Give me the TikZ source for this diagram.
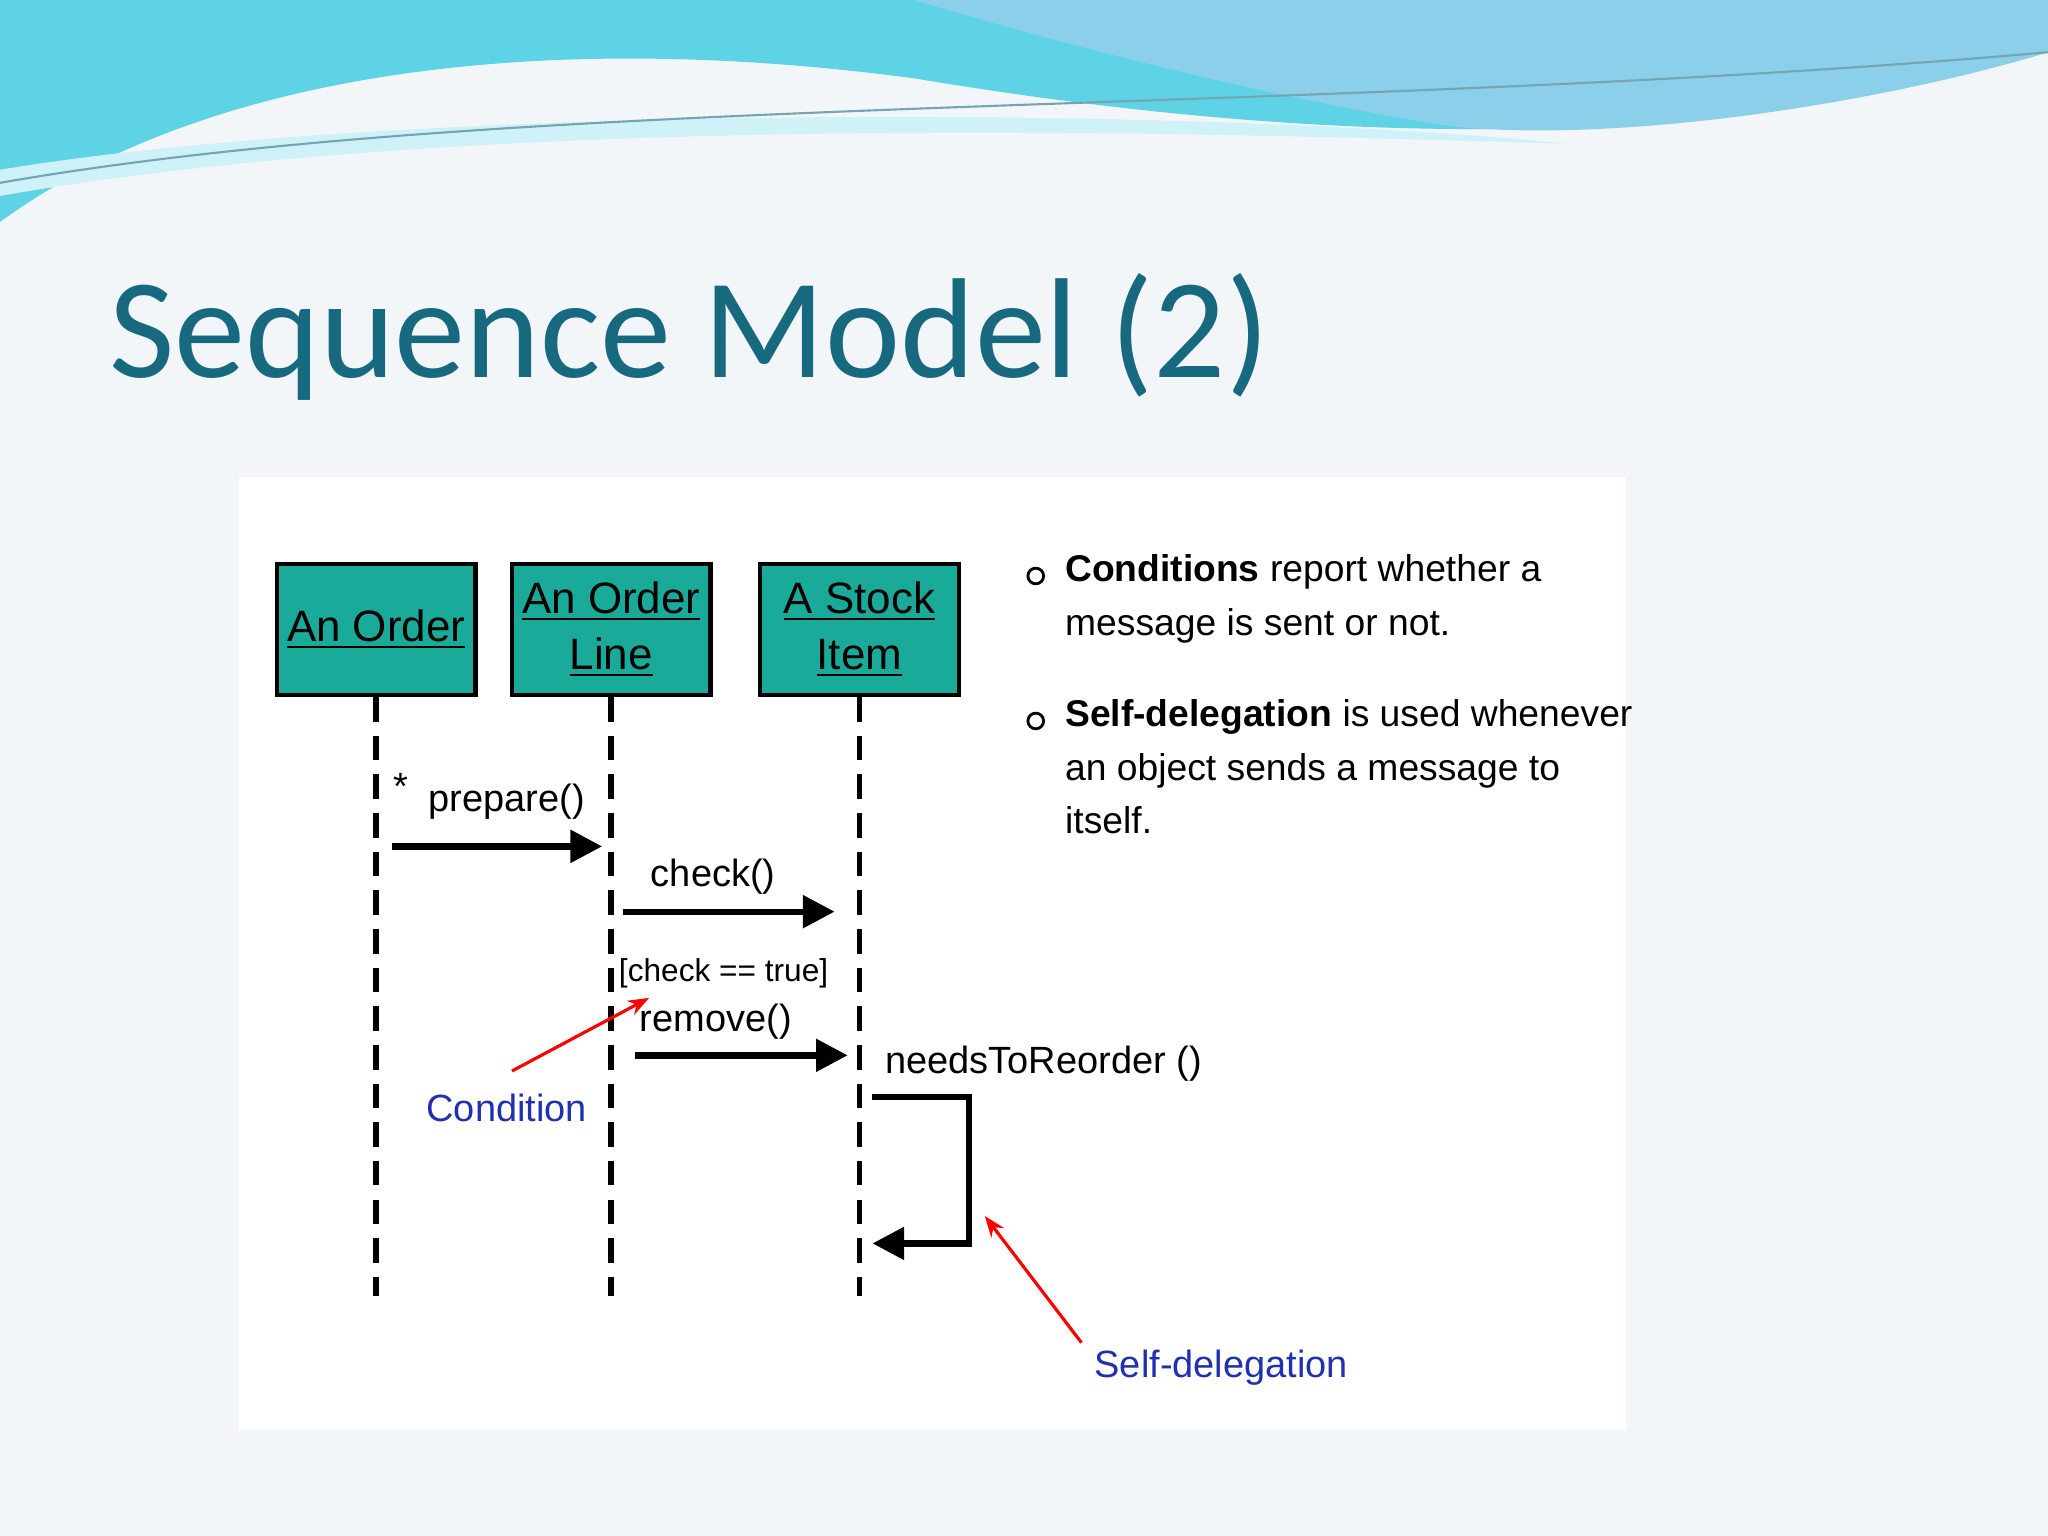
\documentclass[tikz,border=0pt]{standalone}
\usepackage{fontspec}
\setmainfont{Liberation Sans}
\newfontfamily\titlefont{Carlito}
\usetikzlibrary{arrows.meta}
\definecolor{teal1}{HTML}{1AAA9A}
\definecolor{titlec}{HTML}{17697F}
\definecolor{bg}{HTML}{F3F6F9}
\definecolor{wave1}{HTML}{5FD3E6}
\definecolor{wave2}{HTML}{8CCFEA}
\definecolor{lblue}{HTML}{2230B0}
\begin{document}
\begin{tikzpicture}[x=0.01306cm,y=-0.01306cm,
  box/.style={draw=black,line width=1.2pt,fill=teal1,inner sep=0pt,minimum width=152*0.01306cm,minimum height=100*0.01306cm,align=center,font=\fontsize{12.5}{16}\selectfont},
  life/.style={line width=1.6pt,dash pattern=on 7pt off 4pt},
  msg/.style={line width=1.8pt,-{Triangle[length=9pt,width=9pt]}},
  lab/.style={font=\fontsize{10.8}{13}\selectfont},
  red/.style={draw=red,line width=0.9pt,-{Stealth[length=6pt]}},
  blab/.style={font=\fontsize{10.8}{13}\selectfont,text=lblue},
  btxt/.style={anchor=west,font=\fontsize{10.6}{13}\selectfont}]
\fill[bg] (0,0) rectangle (1568,1176);
\useasboundingbox (0,0) rectangle (1568,1176);
% header waves
\fill[wave1] (0,0) -- (1568,0) -- (1568,40) .. controls (1300,120) and (1000,110) .. (700,60) .. controls (400,20) and (150,60) .. (0,170) -- cycle;
\fill[wave2] (700,0) -- (1568,0) -- (1568,40) .. controls (1400,90) and (1200,110) .. (1100,95) .. controls (950,70) and (800,30) .. (700,0) -- cycle;
\fill[white!70!wave1] (0,130) .. controls (300,80) and (900,80) .. (1200,110) .. controls (1000,105) and (400,80) .. (0,150) -- cycle;
\draw[titlec!60,line width=0.6pt] (0,140) .. controls (400,70) and (1000,90) .. (1568,40);
\node[anchor=west,text=titlec,font=\titlefont\fontsize{40.5}{48}\selectfont] (title) at (74,258) {Sequence Model (2)};
% panel
\fill[white] (183,365) rectangle (1245,1095);
\node[box] (o) at (288,482) {\underline{An Order}};
\node[box] (ol) at (468,482) {\underline{An Order}\\\underline{Line}};
\node[box] (si) at (658,482) {\underline{A Stock}\\\underline{Item}};
\coordinate (oe) at (288,992);
\coordinate (ole) at (468,992);
\coordinate (sie) at (658,992);
\draw[life] (o.south) -- (oe);
\draw[life] (ol.south) -- (ole);
\draw[life] (si.south) -- (sie);
\coordinate (p1) at (300,648); \coordinate (p2) at (461,648);
\coordinate (c1) at (477,698); \coordinate (c2) at (639,698);
\coordinate (r1) at (486,808); \coordinate (r2) at (649,808);
\draw[msg] (p1) -- (p2);
\draw[msg] (c1) -- (c2);
\draw[msg] (r1) -- (r2);
\coordinate (s1) at (668,840); \coordinate (s2) at (742,840);
\coordinate (s3) at (742,952); \coordinate (s4) at (668,952);
\draw[msg] (s1) -- (s2) -- (s3) -- (s4);
\node[lab] (star) at (307,602) {*};
\node[lab] (prep) at (388,614) {prepare()};
\node[lab] (chk) at (546,671) {check()};
\node[font=\fontsize{9}{11}\selectfont] (cond) at (554,745) {[check == true]};
\node[lab] (rem) at (548,782) {remove()};
\node[lab] (ntr) at (799,814) {needsToReorder ()};
\node[blab] (condl) at (388,848) {Condition};
\node[blab] (sdl) at (935,1047) {Self-delegation};
\coordinate (ra1) at (392,820); \coordinate (ra2) at (497,764);
\coordinate (rb1) at (828,1028); \coordinate (rb2) at (754,931);
\draw[red] (ra1) -- (ra2);
\draw[red] (rb1) -- (rb2);
% bullets
\foreach \y in {441,552} \draw[line width=0.8pt] (793,\y) circle (6);
\node[btxt] at (806,438) {\textbf{Conditions} report whether a};
\node[btxt] at (806,479) {message is sent or not.};
\node[btxt] at (806,549) {\textbf{Self-delegation} is used whenever};
\node[btxt] at (806,590) {an object sends a message to};
\node[btxt] at (806,628) {itself.};
\end{tikzpicture}
\end{document}
